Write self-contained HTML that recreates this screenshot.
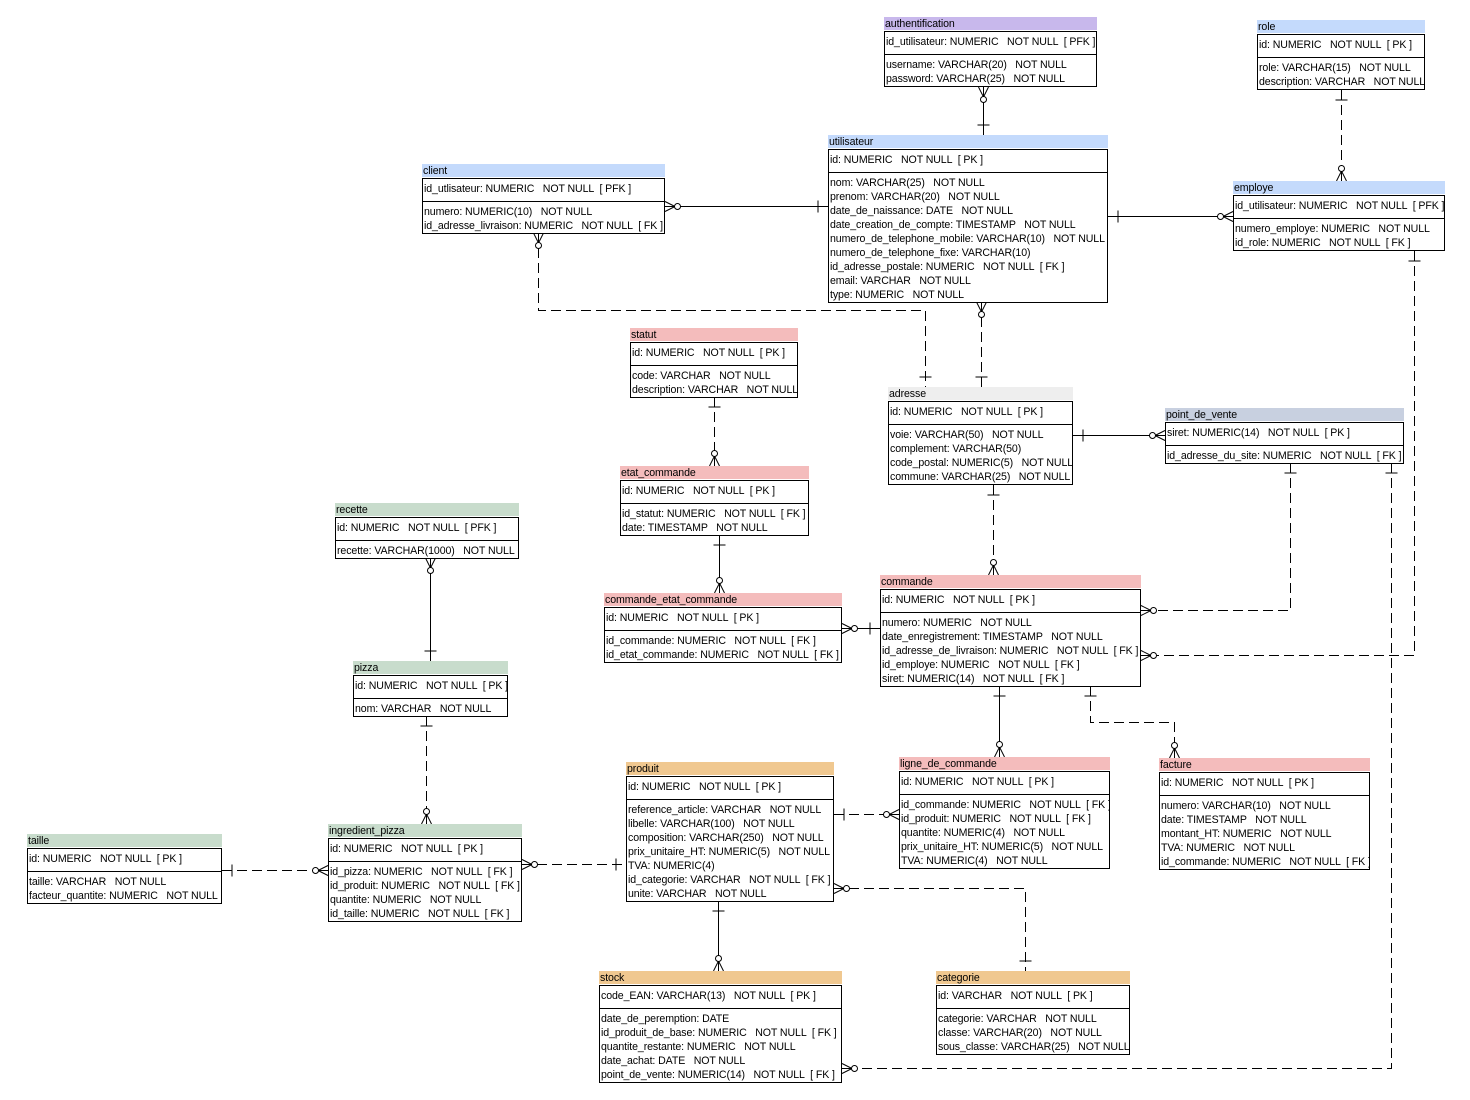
<!DOCTYPE html>
<html><head><meta charset="utf-8"><style>
body{margin:0;width:1470px;height:1100px;background:#fff;position:relative;overflow:hidden;font-family:"Liberation Sans",sans-serif;font-size:10.6px;letter-spacing:-0.1px;color:#000}
.t{position:absolute}
.h{height:13px;line-height:14px;white-space:pre;padding-left:1px;overflow:hidden}
.b{margin-top:1px;border:1px solid #000;background:#fff;overflow:hidden}
.p{line-height:14px;padding:3px 0 5px 1px;border-bottom:1px solid #000;white-space:pre}
.a{line-height:14px;padding:3px 0 0 1px;white-space:pre}
.bl{background:#c4dafc}.pu{background:#c8b8ec}.pk{background:#f4bcbc}.gr{background:#c8dccc}.or{background:#f0c890}.gy{background:#eeeeee}.sl{background:#c8d0e0}
svg{position:absolute;left:0;top:0}
</style></head><body>
<svg id="s" width="1470" height="1100"></svg>

<div class="t" style="left:884px;top:17px;width:213px"><div class="h pu">authentification</div><div class="b"><div class="p">id_utilisateur: NUMERIC   NOT NULL  [ PFK ]</div><div class="a">username: VARCHAR(20)   NOT NULL
password: VARCHAR(25)   NOT NULL</div></div></div>

<div class="t" style="left:1257px;top:20px;width:168px"><div class="h bl">role</div><div class="b"><div class="p">id: NUMERIC   NOT NULL  [ PK ]</div><div class="a">role: VARCHAR(15)   NOT NULL
description: VARCHAR   NOT NULL</div></div></div>

<div class="t" style="left:828px;top:135px;width:280px"><div class="h bl">utilisateur</div><div class="b"><div class="p">id: NUMERIC   NOT NULL  [ PK ]</div><div class="a">nom: VARCHAR(25)   NOT NULL
prenom: VARCHAR(20)   NOT NULL
date_de_naissance: DATE   NOT NULL
date_creation_de_compte: TIMESTAMP   NOT NULL
numero_de_telephone_mobile: VARCHAR(10)   NOT NULL
numero_de_telephone_fixe: VARCHAR(10)
id_adresse_postale: NUMERIC   NOT NULL  [ FK ]
email: VARCHAR   NOT NULL
type: NUMERIC   NOT NULL</div></div></div>

<div class="t" style="left:422px;top:164px;width:243px"><div class="h bl">client</div><div class="b"><div class="p">id_utlisateur: NUMERIC   NOT NULL  [ PFK ]</div><div class="a">numero: NUMERIC(10)   NOT NULL
id_adresse_livraison: NUMERIC   NOT NULL  [ FK ]</div></div></div>

<div class="t" style="left:1233px;top:181px;width:212px"><div class="h bl">employe</div><div class="b"><div class="p">id_utilisateur: NUMERIC   NOT NULL  [ PFK ]</div><div class="a">numero_employe: NUMERIC   NOT NULL
id_role: NUMERIC   NOT NULL  [ FK ]</div></div></div>

<div class="t" style="left:630px;top:328px;width:168px"><div class="h pk">statut</div><div class="b"><div class="p">id: NUMERIC   NOT NULL  [ PK ]</div><div class="a">code: VARCHAR   NOT NULL
description: VARCHAR   NOT NULL</div></div></div>

<div class="t" style="left:888px;top:387px;width:185px"><div class="h gy">adresse</div><div class="b"><div class="p">id: NUMERIC   NOT NULL  [ PK ]</div><div class="a">voie: VARCHAR(50)   NOT NULL
complement: VARCHAR(50)
code_postal: NUMERIC(5)   NOT NULL
commune: VARCHAR(25)   NOT NULL</div></div></div>

<div class="t" style="left:1165px;top:408px;width:239px"><div class="h sl">point_de_vente</div><div class="b"><div class="p">siret: NUMERIC(14)   NOT NULL  [ PK ]</div><div class="a">id_adresse_du_site: NUMERIC   NOT NULL  [ FK ]</div></div></div>

<div class="t" style="left:620px;top:466px;width:189px"><div class="h pk">etat_commande</div><div class="b"><div class="p">id: NUMERIC   NOT NULL  [ PK ]</div><div class="a">id_statut: NUMERIC   NOT NULL  [ FK ]
date: TIMESTAMP   NOT NULL</div></div></div>

<div class="t" style="left:335px;top:503px;width:184px"><div class="h gr">recette</div><div class="b"><div class="p">id: NUMERIC   NOT NULL  [ PFK ]</div><div class="a">recette: VARCHAR(1000)   NOT NULL</div></div></div>

<div class="t" style="left:604px;top:593px;width:238px"><div class="h pk">commande_etat_commande</div><div class="b"><div class="p">id: NUMERIC   NOT NULL  [ PK ]</div><div class="a">id_commande: NUMERIC   NOT NULL  [ FK ]
id_etat_commande: NUMERIC   NOT NULL  [ FK ]</div></div></div>

<div class="t" style="left:880px;top:575px;width:261px"><div class="h pk">commande</div><div class="b"><div class="p">id: NUMERIC   NOT NULL  [ PK ]</div><div class="a">numero: NUMERIC   NOT NULL
date_enregistrement: TIMESTAMP   NOT NULL
id_adresse_de_livraison: NUMERIC   NOT NULL  [ FK ]
id_employe: NUMERIC   NOT NULL  [ FK ]
siret: NUMERIC(14)   NOT NULL  [ FK ]</div></div></div>

<div class="t" style="left:353px;top:661px;width:155px"><div class="h gr">pizza</div><div class="b"><div class="p">id: NUMERIC   NOT NULL  [ PK ]</div><div class="a">nom: VARCHAR   NOT NULL</div></div></div>

<div class="t" style="left:899px;top:757px;width:211px"><div class="h pk">ligne_de_commande</div><div class="b"><div class="p">id: NUMERIC   NOT NULL  [ PK ]</div><div class="a">id_commande: NUMERIC   NOT NULL  [ FK ]
id_produit: NUMERIC   NOT NULL  [ FK ]
quantite: NUMERIC(4)   NOT NULL
prix_unitaire_HT: NUMERIC(5)   NOT NULL
TVA: NUMERIC(4)   NOT NULL</div></div></div>

<div class="t" style="left:1159px;top:758px;width:211px"><div class="h pk">facture</div><div class="b"><div class="p">id: NUMERIC   NOT NULL  [ PK ]</div><div class="a">numero: VARCHAR(10)   NOT NULL
date: TIMESTAMP   NOT NULL
montant_HT: NUMERIC   NOT NULL
TVA: NUMERIC   NOT NULL
id_commande: NUMERIC   NOT NULL  [ FK ]</div></div></div>

<div class="t" style="left:626px;top:762px;width:208px"><div class="h or">produit</div><div class="b"><div class="p">id: NUMERIC   NOT NULL  [ PK ]</div><div class="a">reference_article: VARCHAR   NOT NULL
libelle: VARCHAR(100)   NOT NULL
composition: VARCHAR(250)   NOT NULL
prix_unitaire_HT: NUMERIC(5)   NOT NULL
TVA: NUMERIC(4)
id_categorie: VARCHAR   NOT NULL  [ FK ]
unite: VARCHAR   NOT NULL</div></div></div>

<div class="t" style="left:27px;top:834px;width:195px"><div class="h gr">taille</div><div class="b"><div class="p">id: NUMERIC   NOT NULL  [ PK ]</div><div class="a">taille: VARCHAR   NOT NULL
facteur_quantite: NUMERIC   NOT NULL</div></div></div>

<div class="t" style="left:328px;top:824px;width:194px"><div class="h gr">ingredient_pizza</div><div class="b"><div class="p">id: NUMERIC   NOT NULL  [ PK ]</div><div class="a">id_pizza: NUMERIC   NOT NULL  [ FK ]
id_produit: NUMERIC   NOT NULL  [ FK ]
quantite: NUMERIC   NOT NULL
id_taille: NUMERIC   NOT NULL  [ FK ]</div></div></div>

<div class="t" style="left:599px;top:971px;width:243px"><div class="h or">stock</div><div class="b"><div class="p">code_EAN: VARCHAR(13)   NOT NULL  [ PK ]</div><div class="a">date_de_peremption: DATE
id_produit_de_base: NUMERIC   NOT NULL  [ FK ]
quantite_restante: NUMERIC   NOT NULL
date_achat: DATE   NOT NULL
point_de_vente: NUMERIC(14)   NOT NULL  [ FK ]</div></div></div>

<div class="t" style="left:936px;top:971px;width:194px"><div class="h or">categorie</div><div class="b"><div class="p">id: VARCHAR   NOT NULL  [ PK ]</div><div class="a">categorie: VARCHAR   NOT NULL
classe: VARCHAR(20)   NOT NULL
sous_classe: VARCHAR(25)   NOT NULL</div></div></div>

<script>
var s=document.getElementById('s'),o='';
function L(x1,y1,x2,y2,d){o+='<line x1="'+x1+'" y1="'+y1+'" x2="'+x2+'" y2="'+y2+'" stroke="#000" stroke-width="1"'+(d?' stroke-dasharray="10 5"':'')+'/>';}
function P(pts,d){o+='<polyline fill="none" stroke="#000" stroke-width="1" points="'+pts+'"'+(d?' stroke-dasharray="10 5"':'')+'/>';}
function bar(x,y,dx,dy){var cx=x+dx*10,cy=y+dy*10;L(cx-dy*6,cy-dx*6,cx+dy*6,cy+dx*6);}
function many(x,y,dx,dy){var cx=x+dx*10,cy=y+dy*10;L(cx,cy,x+dy*5,y+dx*5);L(cx,cy,x-dy*5,y-dx*5);L(cx,cy,x,y);
o+='<circle cx="'+(x+dx*12.5)+'" cy="'+(y+dy*12.5)+'" r="3" fill="#fff" stroke="#000"/>';}
L(983.5,87,983.5,135);many(983.5,87,0,1);bar(983.5,135,0,-1);
L(1341.5,90,1341.5,181,1);bar(1341.5,90,0,1);many(1341.5,181,0,-1);
L(665,206.5,828,206.5);many(665,206.5,1,0);bar(828,206.5,-1,0);
L(1108,216.5,1233,216.5);bar(1108,216.5,1,0);many(1233,216.5,-1,0);
P('538.5,233 538.5,310.5 925.5,310.5 925.5,387',1);many(538.5,233,0,1);bar(925.5,387,0,-1);
L(981.5,302,981.5,387,1);many(981.5,302,0,1);bar(981.5,387,0,-1);
L(714.5,397,714.5,466,1);bar(714.5,397,0,1);many(714.5,466,0,-1);
L(719.5,535,719.5,593);bar(719.5,535,0,1);many(719.5,593,0,-1);
L(1073,435.5,1165,435.5);bar(1073,435.5,1,0);many(1165,435.5,-1,0);
L(993.5,485,993.5,575,1);bar(993.5,485,0,1);many(993.5,575,0,-1);
L(842,628.5,880,628.5);many(842,628.5,1,0);bar(880,628.5,-1,0);
P('1290.5,463 1290.5,610.5 1141,610.5',1);bar(1290.5,463,0,1);many(1141,610.5,1,0);
P('1414.5,251 1414.5,655.5 1141,655.5',1);bar(1414.5,251,0,1);many(1141,655.5,1,0);
P('1391.5,463 1391.5,1068.5 842,1068.5',1);bar(1391.5,463,0,1);many(842,1068.5,1,0);
L(430.5,558,430.5,661);many(430.5,558,0,1);bar(430.5,661,0,-1);
L(426.5,716,426.5,824,1);bar(426.5,716,0,1);many(426.5,824,0,-1);
L(222,870.5,328,870.5,1);bar(222,870.5,1,0);many(328,870.5,-1,0);
L(522,864.5,626,864.5,1);many(522,864.5,1,0);bar(626,864.5,-1,0);
L(834,814.5,899,814.5,1);bar(834,814.5,1,0);many(899,814.5,-1,0);
L(999.5,686,999.5,757);bar(999.5,686,0,1);many(999.5,757,0,-1);
P('1090.5,686 1090.5,722.5 1174.5,722.5 1174.5,758',1);bar(1090.5,686,0,1);many(1174.5,758,0,-1);
L(718.5,901,718.5,971);bar(718.5,901,0,1);many(718.5,971,0,-1);
P('834,888.5 1025.5,888.5 1025.5,971',1);many(834,888.5,1,0);bar(1025.5,971,0,-1);
s.innerHTML=o;
</script>
</body></html>
